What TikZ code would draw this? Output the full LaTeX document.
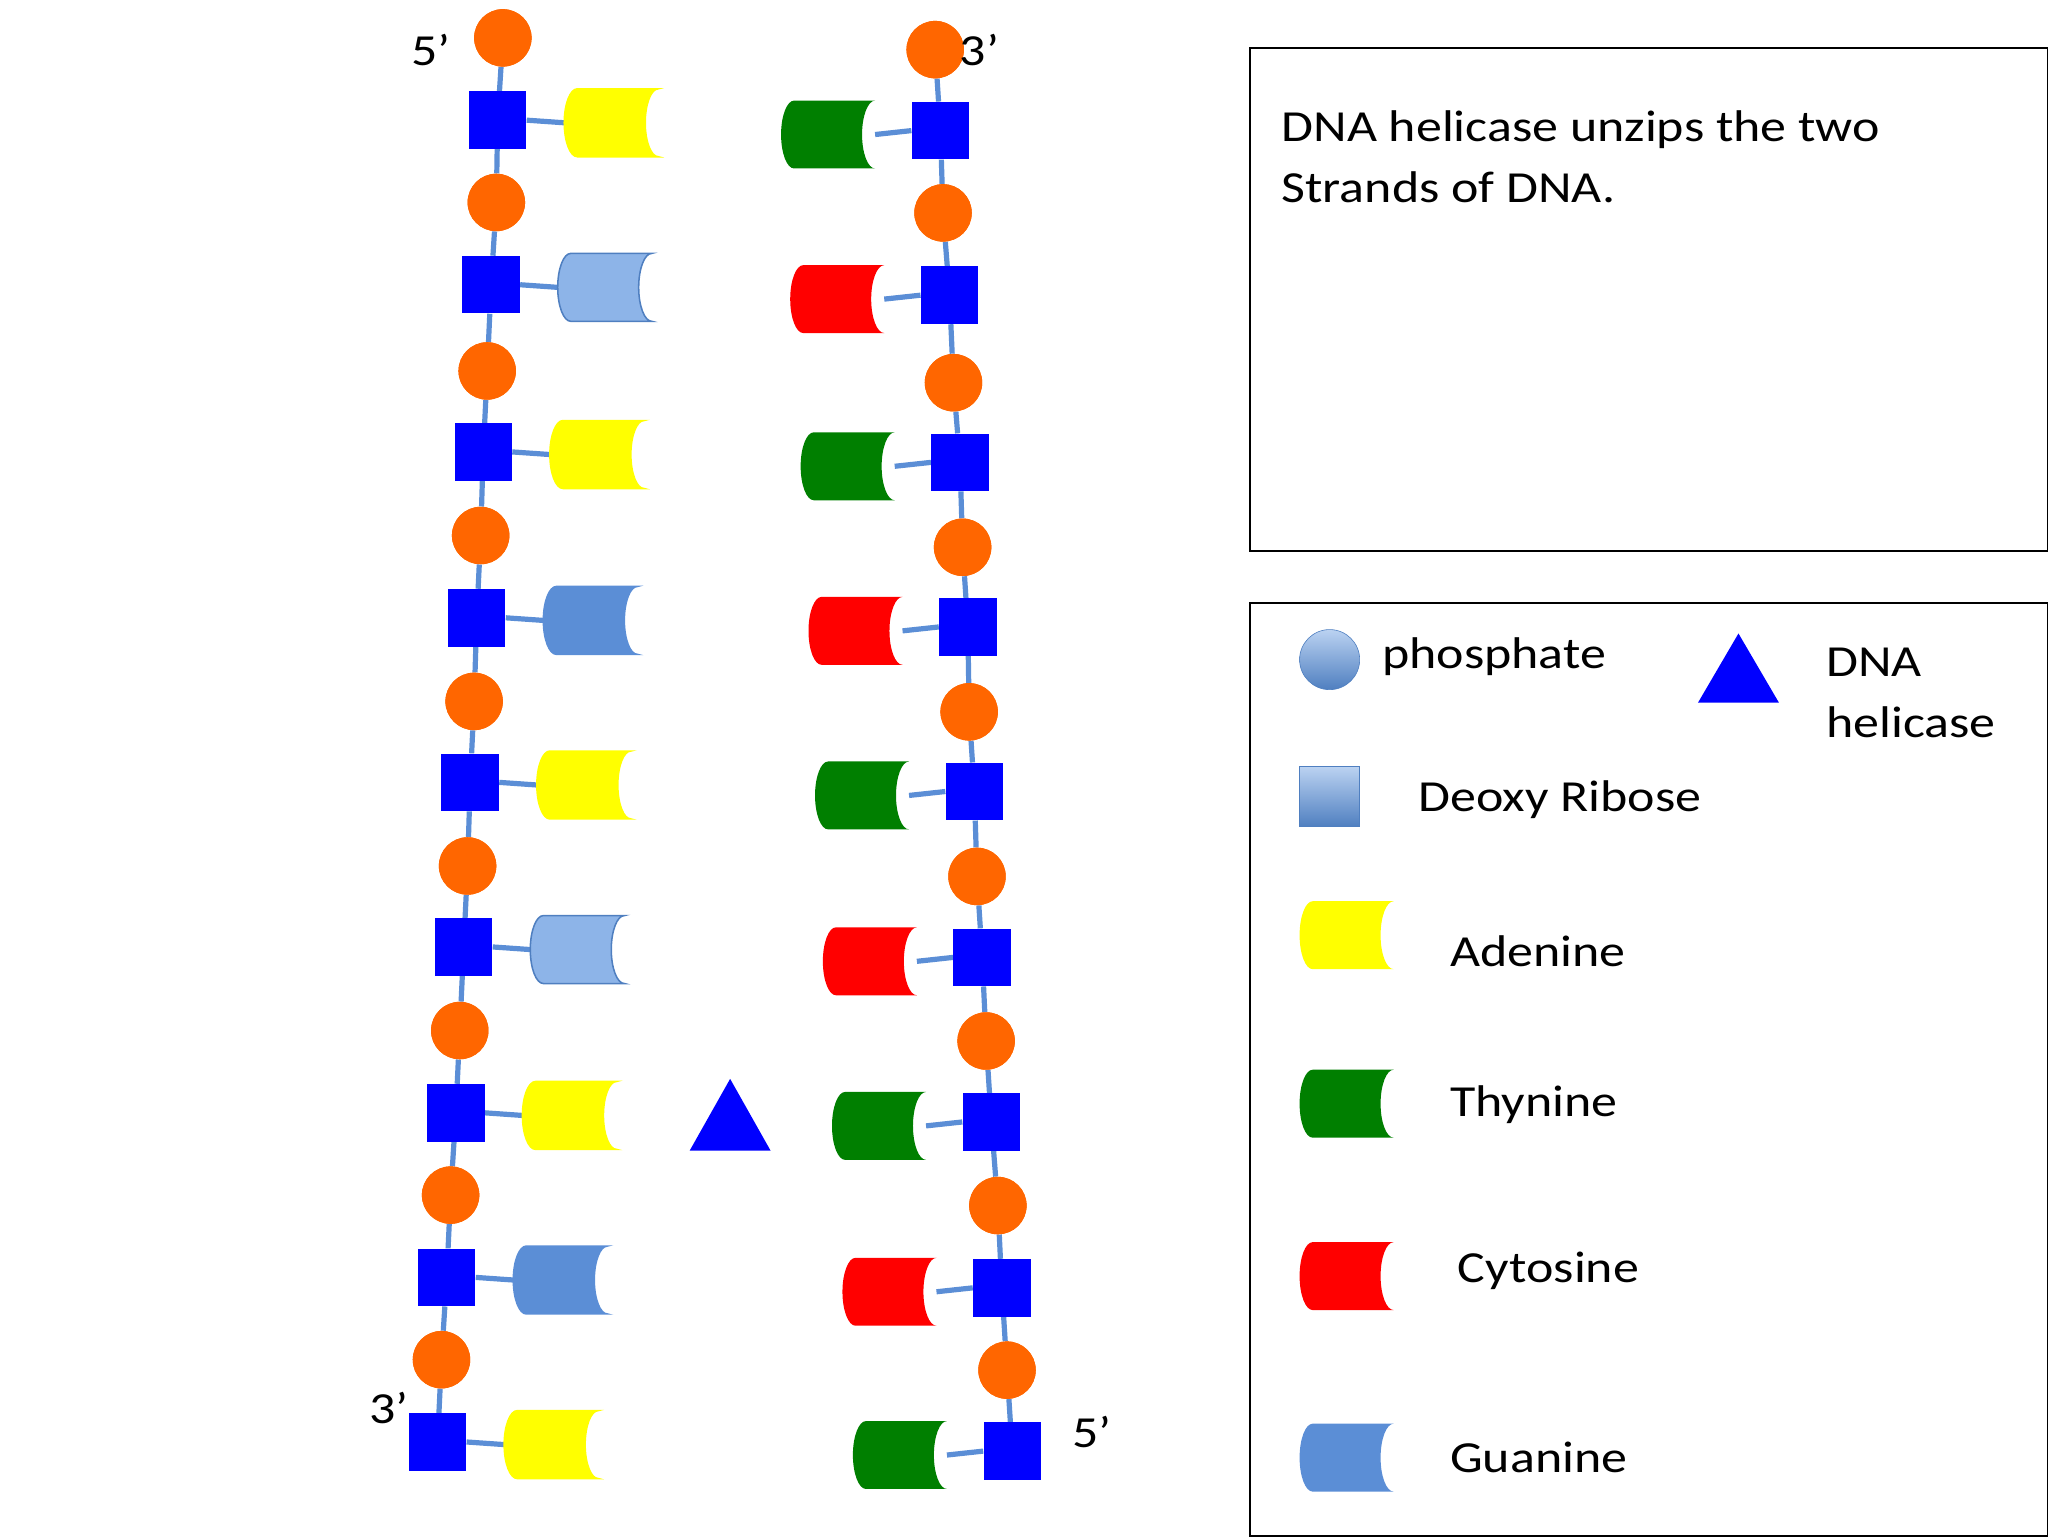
\documentclass[tikz,border=0pt]{standalone}
\usepackage{fontspec}
\setmainfont{Carlito}[FakeStretch=1.17]
\begin{document}
\begin{tikzpicture}[x=0.03cm,y=-0.03cm,
  phos/.style={circle,fill=orangeP,minimum size=44*0.03cm,inner sep=0},
  sugar/.style={rectangle,fill=blueS,minimum size=44*0.03cm,inner sep=0},
  bond/.style={draw=bondC,line width=3.4pt},
  lbl/.style={font=\fontsize{29}{40}\selectfont,anchor=base west,inner sep=0}]
\definecolor{orangeP}{HTML}{FF6600}
\definecolor{blueS}{HTML}{0000FF}
\definecolor{bondC}{HTML}{5B8ED6}
\definecolor{yelB}{HTML}{FFFF00}
\definecolor{greB}{HTML}{007F00}
\definecolor{redB}{HTML}{FF0000}
\definecolor{guaB}{HTML}{5B8ED6}
\definecolor{lguB}{HTML}{8DB4E8}
\definecolor{lguD}{HTML}{4F7FC0}
\newcommand{\basepath}[3]{%
  \path[#3] (#1+10,#2+26) -- ++(62,0) arc[start angle=90,end angle=270,x radius=10,y radius=26]
   -- ++(-62,0) arc[start angle=270,end angle=90,x radius=10,y radius=26] -- cycle;}
\useasboundingbox (0,0) rectangle (1568,1176);
% left strand
\foreach \i/\px/\py/\sx/\sy/\c/\d in {1/385/29/381/92/yelB/yelB,2/380/155/376/218/lguB/lguD,3/373/284/370/346/yelB/yelB,4/368/410/365/473/guaB/guaB,5/363/537/360/599/yelB/yelB,6/358/663/355/725/lguB/lguD,7/352/789/349/852/yelB/yelB,8/345/915/342/978/guaB/guaB,9/338/1041/335/1104/yelB/yelB}{
  \node[phos] (lp\i) at (\px,\py) {};
  \node[sugar] (ls\i) at (\sx,\sy) {};
  \coordinate (lb\i) at (\sx+51,\sy+2);
  \draw[bond] (ls\i.east) -- (lb\i);
  \basepath{\sx+51}{\sy+2}{fill=\c,draw=\d,line width=1pt}
}
\foreach \i [evaluate=\i as \j using int(\i+1)] in {1,...,8}{
  \draw[bond] (lp\i) -- (ls\i); \draw[bond] (ls\i) -- (lp\j);
}
\draw[bond] (lp9) -- (ls9);
\foreach \i in {1,...,9}{ \node[phos] at (lp\i) {}; \node[sugar] at (ls\i) {}; }
% right strand
\foreach \i/\px/\py/\sx/\sy/\c in {1/716/38/720/100/greB,2/722/163/727/226/redB,3/730/293/735/354/greB,4/737/419/741/480/redB,5/742/545/746/606/greB,6/748/671/752/733/redB,7/755/797/759/859/greB,8/764/923/767/986/redB,9/771/1049/775/1111/greB}{
  \node[phos] (rp\i) at (\px,\py) {};
  \node[sugar] (rs\i) at (\sx,\sy) {};
  \coordinate (rb\i) at (\sx-50,\sy+3);
  \draw[bond] (rs\i.west) -- (rb\i);
  \basepath{\sx-122}{\sy+3}{fill=\c}
}
\foreach \i [evaluate=\i as \j using int(\i+1)] in {1,...,8}{
  \draw[bond] (rp\i) -- (rs\i); \draw[bond] (rs\i) -- (rp\j);
}
\draw[bond] (rp9) -- (rs9);
\foreach \i in {1,...,9}{ \node[phos] at (rp\i) {}; \node[sugar] at (rs\i) {}; }
% end labels
\node[lbl,anchor=base] (e1) at (330,50) {5’};
\node[lbl,anchor=base] (e2) at (750,50) {3’};
\node[lbl,anchor=base] (e3) at (298,1090) {3’};
\node[lbl,anchor=base] (e4) at (836,1108) {5’};
% helicase
\fill[blueS] (559,826) -- (590,881) -- (528,881) -- cycle;
% top box
\draw[line width=1.3pt] (957,37) rectangle (1568,422);
\node[lbl] (t1) at (981,108) {DNA helicase unzips the two};
\node[lbl] (t2) at (981,155) {Strands of DNA.};
% legend
\draw[line width=1.3pt] (957,462) rectangle (1568,1176);
\node[circle,inner sep=0,minimum size=46*0.03cm,top color=lguB!60!white,bottom color=lguD,draw=lguD] (lc) at (1018,505) {};
\node[lbl] (lt1) at (1058,512) {phosphate};
\fill[blueS] (1331,485) -- (1362,538) -- (1300,538) -- cycle;
\node[lbl] (lt2) at (1398,518) {DNA};
\node[lbl] (lt3) at (1398,565) {helicase};
\node[rectangle,inner sep=0,minimum size=46*0.03cm,top color=lguB!60!white,bottom color=lguD,draw=lguD] (lsq) at (1018,610) {};
\node[lbl] (lt4) at (1086,621) {Deoxy Ribose};
\basepath{995}{716}{fill=yelB}
\node[lbl] (lt5) at (1110,740) {Adenine};
\basepath{995}{845}{fill=greB}
\node[lbl] (lt6) at (1110,855) {Thynine};
\basepath{995}{977}{fill=redB}
\node[lbl] (lt7) at (1116,982) {Cytosine};
\basepath{995}{1116}{fill=guaB}
\node[lbl] (lt8) at (1110,1127) {Guanine};
\end{tikzpicture}
\end{document}
